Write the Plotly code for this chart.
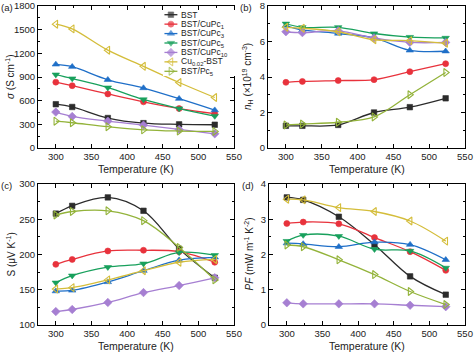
import plotly.graph_objects as go

W, H = 474, 353

# ---------------- data ----------------
T = [300, 323, 373, 423, 473, 523]
series_names = ["BST", "BST/CuPc<sub>1</sub>", "BST/CuPc<sub>3</sub>", "BST/CuPc<sub>5</sub>",
                "BST/CuPc<sub>10</sub>", "Cu<sub>0.02</sub>-BST", "BST/Pc<sub>5</sub>"]

# (a) electrical conductivity sigma (S cm^-1)
sigma_vals = [
    [555, 520, 380, 315, 300, 295],
    [835, 790, 685, 585, 500, 435],
    [1060, 1030, 865, 760, 625, 480],
    [930, 880, 765, 615, 500, 405],
    [455, 400, 340, 290, 235, 180],
    [1570, 1510, 1240, 1035, 830, 640],
    [340, 320, 270, 230, 215, 210],
]
# (b) carrier concentration nH (1e19 cm^-3)
nH_vals = [
    [1.25, 1.25, 1.30, 2.00, 2.30, 2.80],
    [3.70, 3.75, 3.80, 3.85, 4.30, 4.75],
    [6.90, 6.65, 6.45, 6.20, 5.50, 5.45],
    [7.00, 6.80, 6.80, 6.45, 6.25, 6.20],
    [6.55, 6.50, 6.60, 6.20, 5.95, 5.95],
    [6.80, 6.75, 6.55, 6.10, 6.05, 5.90],
    [1.30, 1.35, 1.45, 1.75, 3.00, 4.25],
]
# (c) Seebeck coefficient S (uV K^-1)
S_vals = [
    [258, 269, 281, 262, 208, 167],
    [186, 193, 205, 206, 204, 189],
    [148, 149, 161, 177, 192, 196],
    [160, 170, 182, 187, 203, 199],
    [119, 122, 132, 146, 156, 167],
    [151, 153, 164, 177, 189, 193],
    [256, 261, 262, 248, 210, 164],
]
# (d) power factor PF (mW m^-1 K^-2)
PF_vals = [
    [3.62, 3.55, 3.07, 2.28, 1.38, 0.86],
    [2.88, 2.92, 2.87, 2.48, 2.08, 1.55],
    [2.32, 2.30, 2.22, 2.35, 2.28, 1.85],
    [2.38, 2.55, 2.52, 2.15, 2.10, 1.62],
    [0.63, 0.60, 0.60, 0.60, 0.56, 0.52],
    [3.57, 3.55, 3.33, 3.22, 2.95, 2.38],
    [2.27, 2.22, 1.85, 1.43, 0.95, 0.58],
]

x_ticks = [300, 350, 400, 450, 500, 550]
sigma_ticks = [0, 300, 600, 900, 1200, 1500, 1800]
nH_ticks = [0, 2, 4, 6, 8]
S_ticks = [100, 150, 200, 250, 300]
PF_ticks = [0, 1, 2, 3, 4]

# ---------------- style ----------------
colors = ["#2b2b2b", "#e8323c", "#1f6fc8", "#18a05c", "#a67fd2", "#d4bd3a", "#93b33a"]
symbols = ["square", "circle", "triangle-up", "triangle-down", "diamond",
           "triangle-left-open", "triangle-right-open"]
msize = [5.5, 6, 6.5, 6.5, 6.5, 7, 7]

FONT = "Liberation Sans, Arial, sans-serif"
TXT = "#222222"

def px_x(a, b):
    return [a / W, b / W]

def px_y(top, bot):
    return [1 - bot / H, 1 - top / H]

panels = [
    dict(data=sigma_vals, x0=38, x1=234, top=6, bot=148, yr=[0, 1800], tv=sigma_ticks, ymin=150,
         title="<i>σ</i> (S cm<sup>-1</sup>)", tx=10, label="(a)", lx=0, ly=7),
    dict(data=nH_vals, x0=268, x1=465, top=6, bot=148, yr=[0, 8], tv=nH_ticks, ymin=1,
         title="<i>n</i><sub>H</sub> (×10<sup>19</sup> cm<sup>-3</sup>)", tx=248, label="(b)", lx=239, ly=7),
    dict(data=S_vals, x0=38, x1=234, top=184, bot=325, yr=[100, 300], tv=S_ticks, ymin=25,
         title="S (μV K<sup>-1</sup>)", tx=10, label="(c)", lx=0, ly=185),
    dict(data=PF_vals, x0=269, x1=465, top=184, bot=325, yr=[0, 4], tv=PF_ticks, ymin=0.5,
         title="<i>PF</i> (mW m<sup>-1</sup> K<sup>-2</sup>)", tx=248, label="(d)", lx=241, ly=185),
]

fig = go.Figure()
annotations = []

for p_i, p in enumerate(panels):
    n = p_i + 1
    xa = "x" if n == 1 else f"x{n}"
    ya = "y" if n == 1 else f"y{n}"
    for s_i, vals in enumerate(p["data"]):
        c = colors[s_i]
        open_m = symbols[s_i].endswith("open")
        fig.add_trace(go.Scatter(
            x=T, y=vals, xaxis=xa, yaxis=ya, mode="lines+markers",
            line=dict(color=c, width=1.3, shape="spline", smoothing=1.0),
            marker=dict(symbol=symbols[s_i], size=msize[s_i], color=c,
                        line=dict(color=c, width=1.1 if open_m else 0.6)),
            showlegend=False, name=series_names[s_i]))
    axis_common = dict(showline=True, linecolor="black", linewidth=1, mirror="allticks",
                       ticks="inside", ticklen=4, tickcolor="black", showgrid=False,
                       zeroline=False, automargin=False, ticklabelstandoff=0,
                       ticklabeloverflow="allow",
                       tickfont=dict(family=FONT, size=9.5, color=TXT))
    span = p["yr"][1] - p["yr"][0]
    fig.layout[("xaxis" if n == 1 else f"xaxis{n}")] = dict(
        domain=px_x(p["x0"], p["x1"]), anchor=ya, range=[275, 550.01], tickvals=x_ticks,
        minor=dict(ticks="inside", ticklen=2, tickvals=[325, 375, 425, 475, 525], tickcolor="black"),
        **axis_common)
    fig.layout[("yaxis" if n == 1 else f"yaxis{n}")] = dict(
        domain=px_y(p["top"], p["bot"]), anchor=xa,
        range=[p["yr"][0] - span * 1e-5, p["yr"][1] + span * 1e-5], tickvals=p["tv"],
        minor=dict(ticks="inside", ticklen=2, dtick=p["ymin"], tick0=p["yr"][0], tickcolor="black"),
        **axis_common)
    # axis titles as annotations for precise placement
    annotations.append(dict(text="Temperature (K)", x=((p["x0"] + p["x1"]) / 2) / W,
                            y=1 - (p["bot"] + 20.5) / H, xref="paper", yref="paper",
                            xanchor="center", yanchor="middle", showarrow=False, borderpad=0,
                            font=dict(family=FONT, size=10.5, color=TXT)))
    annotations.append(dict(text=p["title"], x=p["tx"] / W,
                            y=1 - ((p["top"] + p["bot"]) / 2) / H, xref="paper", yref="paper",
                            xanchor="center", yanchor="middle", showarrow=False, textangle=-90,
                            borderpad=0, font=dict(family=FONT, size=10, color=TXT)))
    annotations.append(dict(text=p["label"], x=p["lx"] / W, y=1 - p["ly"] / H,
                            xref="paper", yref="paper", xanchor="left", yanchor="middle",
                            showarrow=False, borderpad=0, font=dict(family=FONT, size=9.5, color=TXT)))

# ---------------- custom compact legend (panel a) ----------------
leg_x0, leg_x1 = 163, 235
leg_top, leg_bot = 10, 76
fig.layout["xaxis5"] = dict(domain=px_x(leg_x0, leg_x1), anchor="y5", range=[0, 1],
                            visible=False, fixedrange=True)
fig.layout["yaxis5"] = dict(domain=px_y(leg_top, leg_bot), anchor="x5", range=[0, 7],
                            visible=False, fixedrange=True)
n_s = len(series_names)
for s_i in range(n_s):
    yy = n_s - 0.5 - s_i
    c = colors[s_i]
    open_m = symbols[s_i].endswith("open")
    fig.add_trace(go.Scatter(
        x=[0.02, 0.11, 0.2], y=[yy, yy, yy], xaxis="x5", yaxis="y5", mode="lines+markers",
        line=dict(color=c, width=1.3),
        marker=dict(symbol=symbols[s_i], size=[0, msize[s_i], 0], color=c,
                    line=dict(color=c, width=1.1 if open_m else 0.6)),
        showlegend=False, hoverinfo="skip"))
    annotations.append(dict(text=series_names[s_i], x=0.24, y=yy, xref="x5", yref="y5",
                            xanchor="left", yanchor="middle", showarrow=False, borderpad=0,
                            font=dict(family=FONT, size=8.5, color=TXT)))

fig.update_layout(
    width=W, height=H, margin=dict(l=0, r=0, t=0, b=0),
    paper_bgcolor="white", plot_bgcolor="white",
    annotations=annotations, showlegend=False,
    font=dict(family=FONT, color=TXT),
)

fig.write_html("out.html")
